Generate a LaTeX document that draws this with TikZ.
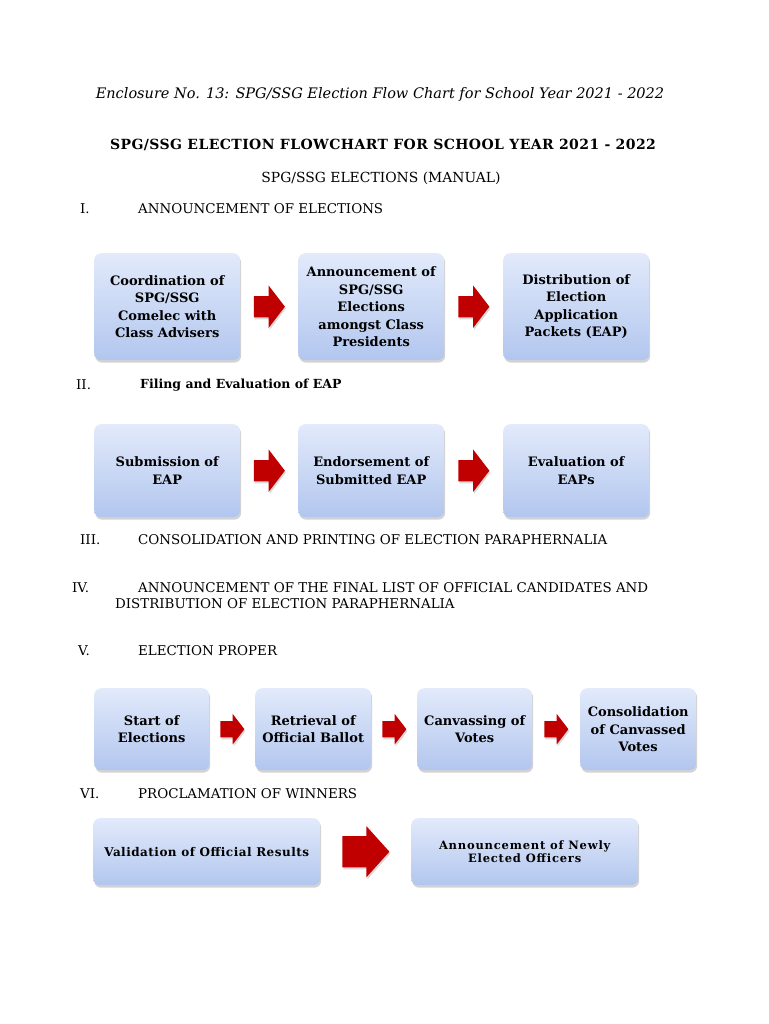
\documentclass[tikz,border=0pt]{standalone}
\usepackage{fontspec}
\setmainfont{DejaVu Serif}
\usetikzlibrary{shapes.arrows,shadows,calc}

\definecolor{boxtop}{HTML}{E2EAFB}
\definecolor{boxbot}{HTML}{B2C6EE}
\definecolor{arrowred}{HTML}{C00000}

\begin{document}
\begin{tikzpicture}[x=1pt, y=-1pt,
    stepbox/.style={rounded corners=7pt, top color=boxtop, bottom color=boxbot,
      drop shadow={shadow xshift=1pt, shadow yshift=-2.5pt, opacity=.35},
      align=center, anchor=north west, inner sep=0pt,
      font=\bfseries\fontsize{13}{17.5}\selectfont},
    redarrow/.style={single arrow, fill=arrowred, inner xsep=0pt, inner ysep=10.5pt,
      single arrow head extend=10.5pt, single arrow tip angle=105, anchor=tail,
      drop shadow={shadow xshift=1pt, shadow yshift=-2pt, opacity=.3}},
    numtext/.style={anchor=west, inner sep=0pt, font=\fontsize{13.4}{16}\selectfont},
    headtext/.style={anchor=west, inner sep=0pt, font=\fontsize{13.4}{16}\selectfont}]

  \useasboundingbox (0, 0) rectangle (768, 1024);

  %%heading
  \node[font=\itshape\fontsize{14.5}{17}\selectfont] (encl) at (380, 95)
    {Enclosure No. 13: SPG/SSG Election Flow Chart for School Year 2021 - 2022};
  \node[font=\bfseries\fontsize{14}{17}\selectfont\addfontfeature{LetterSpace=3}] (title) at (383, 145)
    {SPG/SSG ELECTION FLOWCHART FOR SCHOOL YEAR 2021 - 2022};
  \node[font=\fontsize{13.9}{16}\selectfont] (manual) at (381, 178)
    {SPG/SSG ELECTIONS (MANUAL)};

  %%I
  \node[numtext] (n1) at (80, 209) {I.};
  \node[headtext] (h1) at (138, 209) {ANNOUNCEMENT OF ELECTIONS};

    \node[stepbox, minimum width=146, minimum height=107] (coord) at (94, 253)
      {Coordination of\\SPG/SSG\\Comelec with\\Class Advisers};
    \node[stepbox, minimum width=146, minimum height=107] (annc) at (298, 253)
      {Announcement of\\SPG/SSG\\Elections\\amongst Class\\Presidents};
    \node[stepbox, minimum width=146, minimum height=107] (distr) at (503, 253)
      {Distribution of\\Election\\Application\\Packets (EAP)};

      \node[redarrow, minimum height=31, xshift=-15.5] (a11)
        at ($(coord.east)!.5!(annc.west)$) {};
      \node[redarrow, minimum height=31, xshift=-15.5] (a12)
        at ($(annc.east)!.5!(distr.west)$) {};

  %%II
  \node[numtext] (n2) at (76, 385) {II.};
  \node[headtext, font=\bfseries\fontsize{12.5}{15}\selectfont] (h2) at (140, 385)
    {Filing and Evaluation of EAP};

    \node[stepbox, minimum width=146, minimum height=93] (subm) at (94, 424)
      {Submission of\\EAP};
    \node[stepbox, minimum width=146, minimum height=93] (endo) at (298, 424)
      {Endorsement of\\Submitted EAP};
    \node[stepbox, minimum width=146, minimum height=93] (eval) at (503, 424)
      {Evaluation of\\EAPs};

      \node[redarrow, minimum height=31, xshift=-15.5] (a21)
        at ($(subm.east)!.5!(endo.west)$) {};
      \node[redarrow, minimum height=31, xshift=-15.5] (a22)
        at ($(endo.east)!.5!(eval.west)$) {};

  %%III
  \node[numtext] (n3) at (80, 540) {III.};
  \node[headtext] (h3) at (138, 540)
    {CONSOLIDATION AND PRINTING OF ELECTION PARAPHERNALIA};

  %%IV
  \node[numtext] (n4) at (72, 588) {IV.};
  \node[headtext] (h4) at (138, 588)
    {ANNOUNCEMENT OF THE FINAL LIST OF OFFICIAL CANDIDATES AND};
  \node[headtext] (h4b) at (115, 604)
    {DISTRIBUTION OF ELECTION PARAPHERNALIA};

  %%V
  \node[numtext] (n5) at (78, 651) {V.};
  \node[headtext] (h5) at (138, 651) {ELECTION PROPER};

    \node[stepbox, minimum width=115, minimum height=82] (start) at (94, 688)
      {Start of\\Elections};
    \node[stepbox, minimum width=116, minimum height=82] (retr) at (255, 688)
      {Retrieval of\\Official Ballot};
    \node[stepbox, minimum width=115, minimum height=82] (canv) at (417, 688)
      {Canvassing of\\Votes};
    \node[stepbox, minimum width=116, minimum height=82] (cons) at (580, 688)
      {Consolidation\\of Canvassed\\Votes};

      \node[redarrow, minimum height=24, inner ysep=8pt, xshift=-12,
        single arrow head extend=7pt] (a51) at ($(start.east)!.5!(retr.west)$) {};
      \node[redarrow, minimum height=24, inner ysep=8pt, xshift=-12,
        single arrow head extend=7pt] (a52) at ($(retr.east)!.5!(canv.west)$) {};
      \node[redarrow, minimum height=24, inner ysep=8pt, xshift=-12,
        single arrow head extend=7pt] (a53) at ($(canv.east)!.5!(cons.west)$) {};

  %%VI
  \node[numtext] (n6) at (80, 794) {VI.};
  \node[headtext] (h6) at (138, 794) {PROCLAMATION OF WINNERS};

    \node[stepbox, minimum width=227, minimum height=67,
      font=\bfseries\fontsize{12}{13}\selectfont\addfontfeature{LetterSpace=4}] (valid) at (93, 818)
      {Validation of Official Results};
    \node[stepbox, minimum width=227, minimum height=67,
      font=\bfseries\fontsize{11.5}{13}\selectfont\addfontfeature{LetterSpace=7}] (newly) at (411, 818)
      {Announcement of Newly\\Elected Officers};

      \node[redarrow, minimum height=47, inner ysep=15.5pt, xshift=-23.5,
        single arrow head extend=10pt, single arrow tip angle=96] (a61)
        at ($(valid.east)!.5!(newly.west)$) {};

\end{tikzpicture}
\end{document}
